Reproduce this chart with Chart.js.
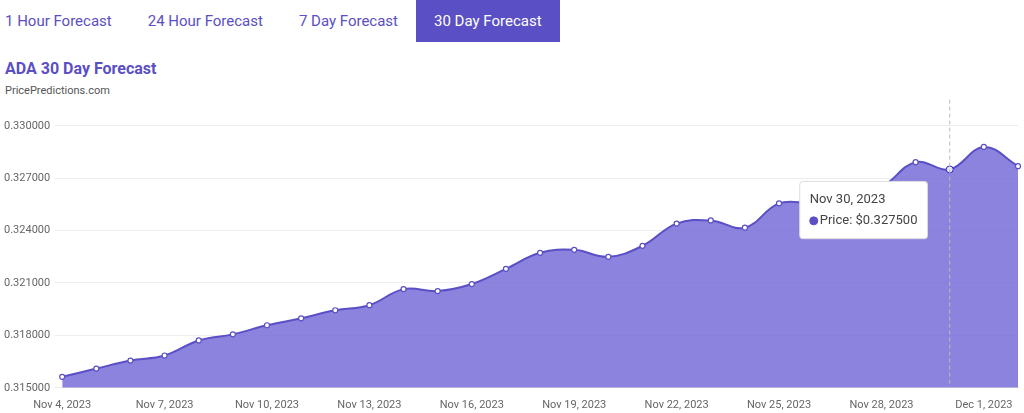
<!DOCTYPE html><html><head><meta charset="utf-8">
<script src="https://cdn.jsdelivr.net/npm/chart.js@4"></script>
<style>
body{margin:0;width:1024px;height:413px;overflow:hidden;font-family:Roboto,sans-serif;background:#fff;position:relative}
.tabs{position:absolute;top:0;left:0;height:42px;display:flex}
.tab{padding:0 18px;line-height:42px;font-size:15px;color:#5a4fc4;margin-right:0}
.tab.on{background:#5a4fc4;color:#fff}
h1{position:absolute;left:5px;top:59px;margin:0;font-size:16px;font-weight:bold;color:#5a4fc4}
.sub{position:absolute;left:5px;top:84px;font-size:11px;color:#555}
#w{position:absolute;left:0;top:89px;width:1024px;height:326px}
</style></head><body>
<div class="tabs"><div class="tab" style="padding-left:5px">1 Hour Forecast</div><div class="tab">24 Hour Forecast</div><div class="tab">7 Day Forecast</div><div class="tab on">30 Day Forecast</div></div>
<h1>ADA 30 Day Forecast</h1><div class="sub">PricePredictions.com</div>
<div id="w"><canvas id="c"></canvas></div>
<script>
const labels=["Nov 4, 2023","Nov 5, 2023","Nov 6, 2023","Nov 7, 2023","Nov 8, 2023","Nov 9, 2023","Nov 10, 2023","Nov 11, 2023","Nov 12, 2023","Nov 13, 2023","Nov 14, 2023","Nov 15, 2023","Nov 16, 2023","Nov 17, 2023","Nov 18, 2023","Nov 19, 2023","Nov 20, 2023","Nov 21, 2023","Nov 22, 2023","Nov 23, 2023","Nov 24, 2023","Nov 25, 2023","Nov 26, 2023","Nov 27, 2023","Nov 28, 2023","Nov 29, 2023","Nov 30, 2023","Dec 1, 2023","Dec 2, 2023"];
const prices=[0.31563,0.31610,0.31656,0.31685,0.31771,0.31806,0.31858,0.31898,0.31944,0.31973,0.32065,0.32054,0.32094,0.32181,0.32273,0.32290,0.32250,0.32313,0.32440,0.32458,0.32417,0.32556,0.32560,0.32600,0.32650,0.32792,0.32750,0.32879,0.32769];
const activeIndex=26;
Chart.Tooltip.positioners.fixedLeft=function(items){if(!items.length)return false;const p=items[0].element;return {x:p.x-147,y:p.y+10};};
const cross={id:'cross',afterDatasetsDraw(ch){const m=ch.getDatasetMeta(0).data[activeIndex];const c=ch.ctx;c.save();c.strokeStyle='#bbb';c.setLineDash([4,3]);c.beginPath();c.moveTo(m.x,ch.chartArea.top);c.lineTo(m.x,ch.chartArea.bottom);c.stroke();c.restore();}};
const ch=new Chart(document.getElementById('c'),{type:'line',data:{labels,datasets:[{data:prices,borderColor:'#5a4fc4',backgroundColor:'rgba(110,100,212,0.8)',fill:true,tension:0.4,borderWidth:2,pointRadius:2.5,pointBackgroundColor:'#fff',pointBorderColor:'#5a4fc4',pointBorderWidth:1.2,pointHoverRadius:3.5}]},
options:{responsive:true,maintainAspectRatio:false,animation:false,layout:{padding:{left:0,right:6}},
interaction:{mode:'index',intersect:false},
plugins:{legend:{display:false},tooltip:{position:'fixedLeft',backgroundColor:'#fff',borderColor:'#ddd',borderWidth:1,titleColor:'#444',bodyColor:'#444',titleFont:{family:'Roboto',size:13,weight:'normal'},bodyFont:{family:'Roboto',size:13},padding:10,cornerRadius:3,usePointStyle:true,boxWidth:8,boxHeight:8,xAlign:'left',yAlign:'top',caretSize:0,
callbacks:{label:c=>'Price: $'+c.parsed.y.toFixed(6),labelColor:()=>({borderColor:'#5a4fc4',backgroundColor:'#5a4fc4'})}}},
scales:{x:{offset:false,grid:{display:false},border:{color:'#ddd'},ticks:{autoSkip:false,maxRotation:0,color:'#666',font:{family:'Roboto',size:11},callback:(v,i)=>i%3===0&&i<28?labels[i]:''}},
y:{min:0.315,max:0.3315,grid:{color:'#eee'},border:{display:false},afterBuildTicks:s=>{s.ticks=s.ticks.filter(t=>t.value<0.3301);},ticks:{stepSize:0.003,color:'#666',font:{family:'Roboto',size:11},callback:v=>v.toFixed(6),padding:4}}}},plugins:[cross]});
ch.setActiveElements([{datasetIndex:0,index:activeIndex}]);
ch.tooltip.setActiveElements([{datasetIndex:0,index:activeIndex}],{x:0,y:0});
ch.update();
</script></body></html>
